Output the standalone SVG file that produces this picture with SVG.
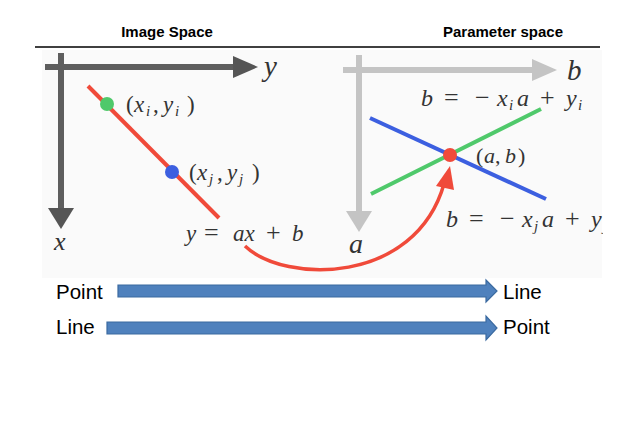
<svg xmlns="http://www.w3.org/2000/svg" width="638" height="425" viewBox="0 0 638 425">
<style>
.title{font-family:"Liberation Sans",Arial,sans-serif;font-weight:bold;font-size:15px;fill:#000}
.m{font-family:"Liberation Serif","DejaVu Serif",serif;fill:#333}
.i{font-style:italic}
.s{font-style:italic;font-size:15px}
.op{font-size:26px}
.lbl{font-family:"Liberation Sans",Arial,sans-serif;font-size:20.5px;fill:#000}
.blue{fill:#4f81bd;stroke:#3b6aa0;stroke-width:1.2}
</style>
<rect width="638" height="425" fill="#fff"/>
<rect x="42" y="50" width="560" height="228" fill="#fafafa"/>
<line x1="35" y1="47" x2="600" y2="47" stroke="#000" stroke-width="1.5"/>
<text class="title" x="167" y="37" text-anchor="middle">Image Space</text>
<text class="title" x="503" y="37" text-anchor="middle">Parameter space</text>

<g id="image-axes">
<line x1="45" y1="67" x2="236" y2="67" stroke="#5e5e5e" stroke-width="6"/>
<polygon points="233,56 258,67 233,78" fill="#555"/>
<line x1="61" y1="53" x2="61" y2="212" stroke="#5e5e5e" stroke-width="6"/>
<polygon points="48,208 61,229 74,208" fill="#555"/>
<text class="m i" x="264" y="76" font-size="29">y</text>
<text class="m i" x="54" y="250" font-size="26">x</text>
</g>

<g id="image-line">
<line x1="88" y1="86" x2="219" y2="218" stroke="#f04a3a" stroke-width="4"/>
<circle cx="107" cy="104" r="7" fill="#4fc96b"/>
<circle cx="172" cy="172" r="7" fill="#3c5fe0"/>
<text class="m" y="112" font-size="23"><tspan x="126">(</tspan><tspan class="i" x="134">x</tspan><tspan class="s" x="146" dy="4">i</tspan><tspan x="153" dy="-4">,</tspan><tspan class="i" x="163">y</tspan><tspan class="s" x="175" dy="4">i</tspan><tspan x="187" dy="-4">)</tspan></text>
<text class="m" y="180" font-size="23"><tspan x="189">(</tspan><tspan class="i" x="197">x</tspan><tspan class="s" x="209" dy="4">j</tspan><tspan x="217" dy="-4">,</tspan><tspan class="i" x="227">y</tspan><tspan class="s" x="239" dy="4">j</tspan><tspan x="252" dy="-4">)</tspan></text>
<text class="m" y="241" font-size="23"><tspan class="i" x="186">y</tspan><tspan class="op" x="204">=</tspan><tspan class="i" x="233">ax</tspan><tspan class="op" x="266">+</tspan><tspan class="i" x="292">b</tspan></text>
</g>

<g id="param-axes">
<line x1="343" y1="70" x2="535" y2="70" stroke="#c4c4c4" stroke-width="6"/>
<polygon points="532,59 557,70 532,81" fill="#c4c4c4"/>
<line x1="359" y1="55" x2="359" y2="214" stroke="#c4c4c4" stroke-width="6"/>
<polygon points="346,211 359,232 372,211" fill="#c4c4c4"/>
<text class="m i" x="567" y="80" font-size="29">b</text>
<text class="m i" x="349" y="253" font-size="28">a</text>
</g>

<g id="param-lines">
<line x1="370" y1="118" x2="546" y2="199" stroke="#3c5fe0" stroke-width="4"/>
<line x1="371" y1="194" x2="541" y2="109" stroke="#4fc96b" stroke-width="4"/>
<circle cx="450" cy="155" r="7" fill="#f04a3a"/>
<text class="m" y="163" font-size="22"><tspan x="476">(</tspan><tspan class="i" x="484">a</tspan><tspan x="495">,</tspan><tspan class="i" x="505">b</tspan><tspan x="518">)</tspan></text>
<text class="m" y="106" font-size="24"><tspan class="i" x="421">b</tspan><tspan class="op" x="444">=</tspan><tspan class="op" x="475">−</tspan><tspan class="i" x="497">x</tspan><tspan class="s" x="509" dy="4">i</tspan><tspan class="i" x="517" dy="-4">a</tspan><tspan class="op" x="540">+</tspan><tspan class="i" x="566">y</tspan><tspan class="s" x="578" dy="4">i</tspan></text>
<text class="m" y="227" font-size="24"><tspan class="i" x="446">b</tspan><tspan class="op" x="469">=</tspan><tspan class="op" x="500">−</tspan><tspan class="i" x="522">x</tspan><tspan class="s" x="534" dy="4">j</tspan><tspan class="i" x="542" dy="-4">a</tspan><tspan class="op" x="565">+</tspan><tspan class="i" x="591">y</tspan><tspan class="s" x="603" dy="4">j</tspan></text>
</g>
<rect x="603" y="200" width="35" height="40" fill="#fff"/>

<g id="connectors">
<path d="M245,246 C285,284 415,285 444,184" fill="none" stroke="#f04a3a" stroke-width="3.5"/>
<polygon points="436,186 450,166 454,190" fill="#f04a3a"/>
</g>

<g id="mapping">
<polygon class="blue" points="118,285 486,285 486,280 497,291 486,302 486,297 118,297"/>
<polygon class="blue" points="107,322 486,322 486,316 497,328 486,340 486,334 107,334"/>
<text class="lbl" x="56" y="299">Point</text>
<text class="lbl" x="503" y="299">Line</text>
<text class="lbl" x="56" y="334">Line</text>
<text class="lbl" x="503" y="334">Point</text>
</g>
</svg>
